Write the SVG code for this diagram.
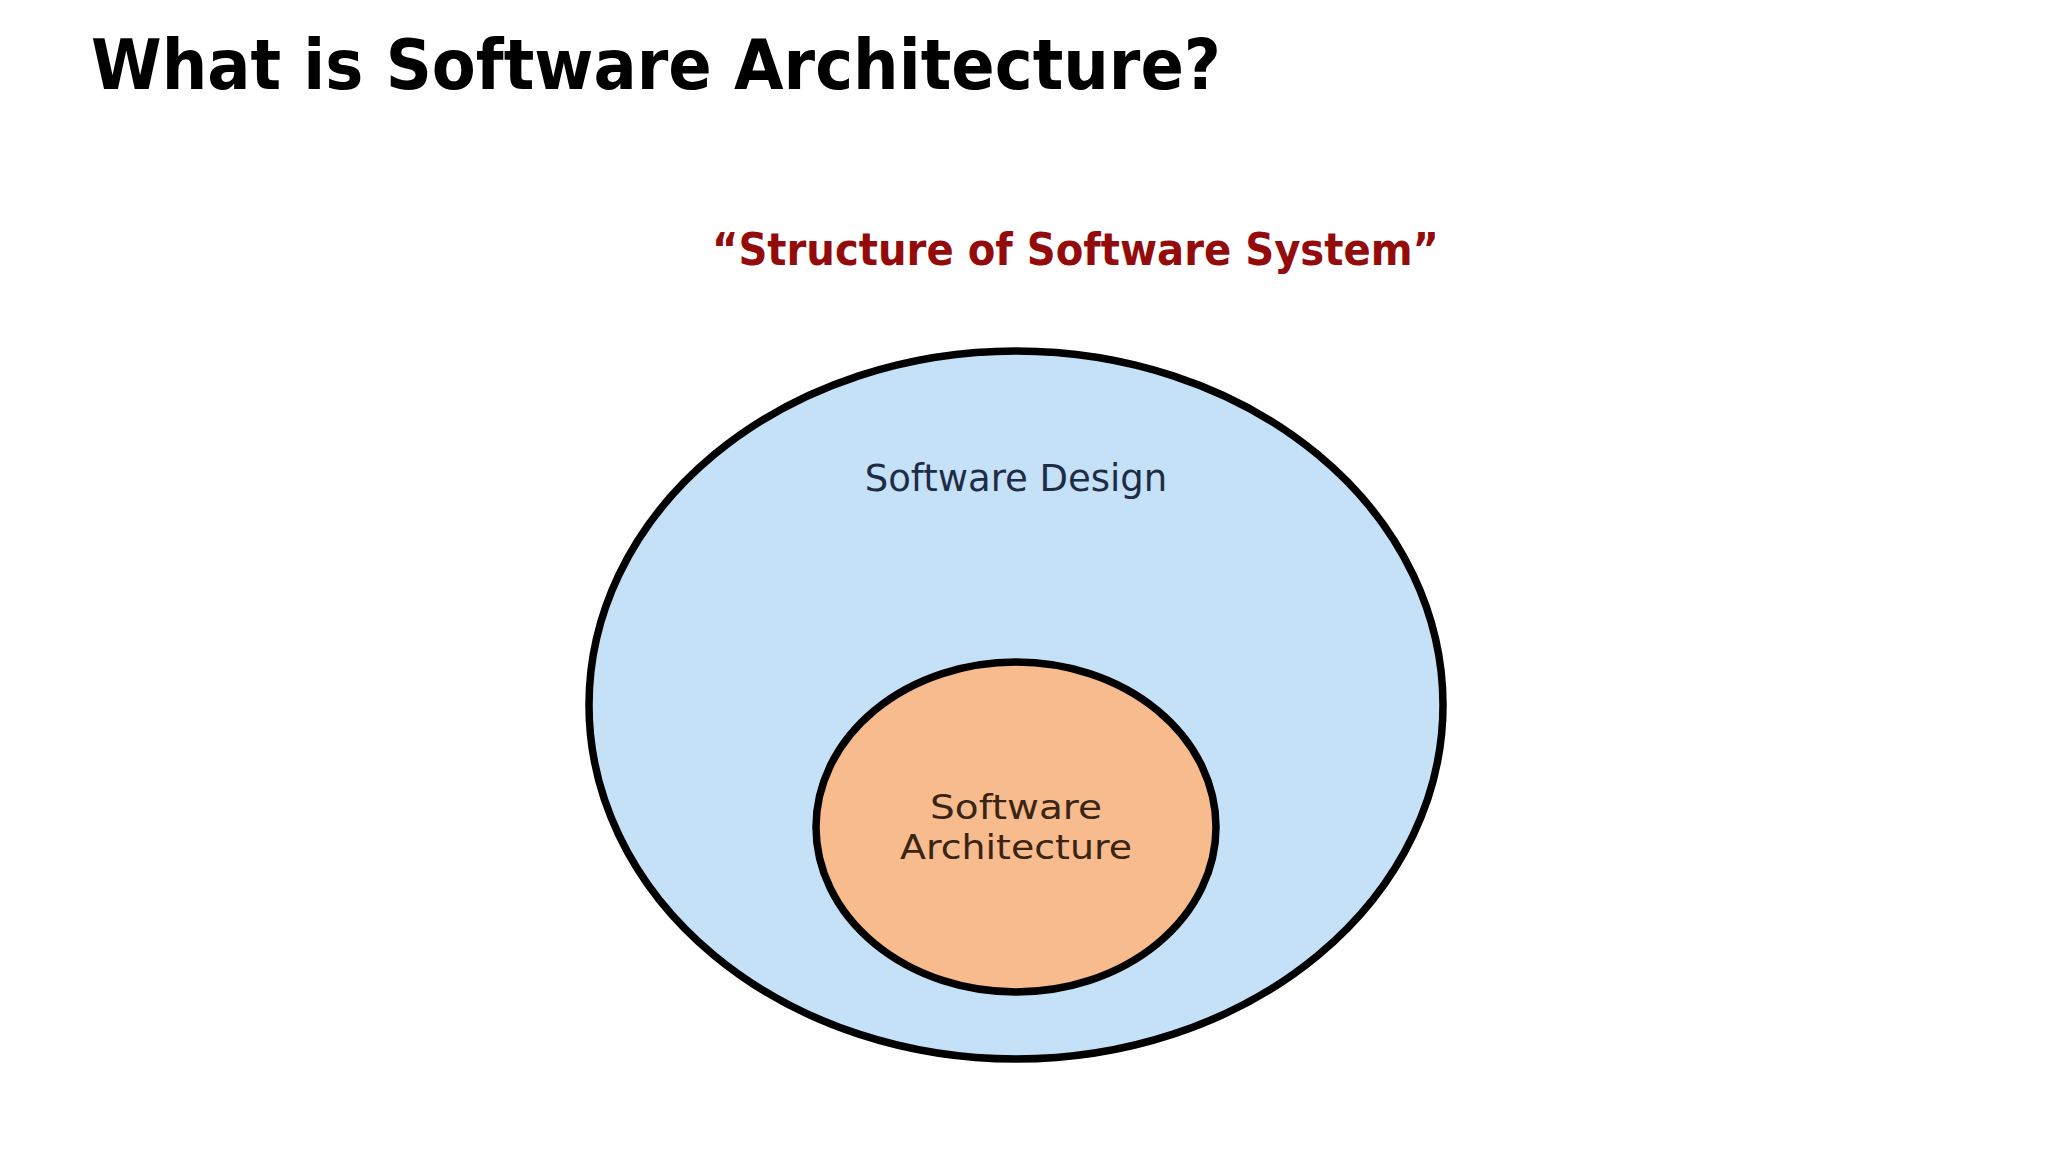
<svg xmlns="http://www.w3.org/2000/svg" width="2048" height="1152" viewBox="0 0 2048 1152">
  <style>
    .title { font-family: "DejaVu Sans", "Liberation Sans", sans-serif; font-weight: bold; fill: #000000; }
    .subtitle { font-family: "DejaVu Sans", "Liberation Sans", sans-serif; font-weight: bold; fill: #940b0b; }
    .label { font-family: "DejaVu Sans", "Liberation Sans", sans-serif; font-size: 37px; text-anchor: middle; }
    .inner { font-family: "DejaVu Sans", "Liberation Sans", sans-serif; font-size: 34px; text-anchor: middle; fill: #3a2414; }
    .ring { stroke: #000000; stroke-width: 7.5; }
  </style>
  <rect x="0" y="0" width="2048" height="1152" fill="#ffffff"/>
  <rect x="529" y="300" width="992" height="805" fill="#fefefe"/>
  <g id="title">
    <text class="title" x="91" y="89" font-size="70" textLength="1130" lengthAdjust="spacingAndGlyphs">What is Software Architecture?</text>
  </g>
  <g id="subtitle">
    <text class="subtitle" x="712" y="265" font-size="44" textLength="727" lengthAdjust="spacingAndGlyphs">“Structure of Software System”</text>
  </g>
  <g id="software-design">
    <ellipse class="ring" cx="1016" cy="705" rx="427" ry="354" fill="#c5e1f8"/>
    <text class="label" x="1016" y="491" fill="#1e2d45">Software Design</text>
  </g>
  <g id="software-architecture">
    <ellipse class="ring" cx="1016" cy="827" rx="200" ry="165" fill="#f8bb8e"/>
    <text class="inner" x="1016" y="819" textLength="172" lengthAdjust="spacingAndGlyphs">Software</text>
    <text class="inner" x="1016" y="859" textLength="232" lengthAdjust="spacingAndGlyphs">Architecture</text>
  </g>
</svg>
